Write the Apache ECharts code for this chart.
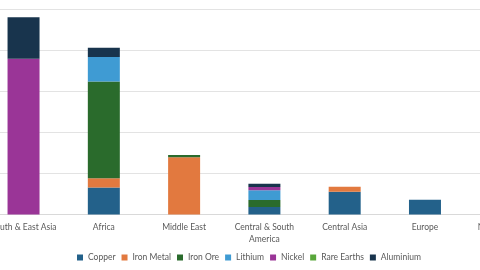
<!DOCTYPE html>
<html>
<head>
<meta charset="utf-8">
<script src="https://cdn.jsdelivr.net/npm/echarts@6/dist/echarts.min.js"></script>
<style>
html, body { margin: 0; padding: 0; background: #fff; }
#chart { width: 480px; height: 270px; }
</style>
</head>
<body>
<div id="chart"></div>
<script>
// regions (last one is cut off at the right edge)
var regions = ['South & East Asia', 'Africa', 'Middle East', 'Central & South America', 'Central Asia', 'Europe', 'North America'];

// stacked values per mineral, bottom to top
var copper     = [0,    13.1, 0,    3.7, 11.1, 7.2, null];
var ironMetal  = [0,    4.6,  27.9, 0,   2.4,  0,   null];
var ironOre    = [0,    47.1, 1.1,  3.4, 0,    0,   null];
var lithium    = [0,    12.0, 0,    4.7, 0,    0,   null];
var nickel     = [75.9, 0,    0,    1.6, 0,    0,   null];
var rareEarths = [0,    0,    0,    0,   0,    0,   null];
var aluminium  = [20.2, 4.5,  0,    1.6, 0,    0,   null];

var minerals = ['Copper', 'Iron Metal', 'Iron Ore', 'Lithium', 'Nickel', 'Rare Earths', 'Aluminium'];
var colors = ['#23618a', '#e2793f', '#2a6b2c', '#3f9bd3', '#9a3597', '#58a63a', '#18344d'];
var values = [copper, ironMetal, ironOre, lithium, nickel, rareEarths, aluminium];

var font = 'Lato, "Open Sans", sans-serif';

var series = [];
for (var i = 0; i < minerals.length; i++) {
    series.push({
        name: minerals[i],
        type: 'bar',
        stack: 'total',
        barWidth: 32,
        itemStyle: { color: colors[i] },
        data: values[i]
    });
}

var option = {
    animation: false,
    color: colors,
    legend: {
        left: 72,
        top: 248,
        itemWidth: 6,
        itemHeight: 6,
        itemGap: 6,
        icon: 'rect',
        textStyle: { fontFamily: font, fontSize: 8.5, color: '#595959' },
        data: minerals
    },
    grid: {
        left: -16.6,
        top: 9.3,
        width: 562,
        height: 205.2,
        outerBoundsMode: 'none'
    },
    xAxis: {
        type: 'category',
        data: regions,
        axisLine: { lineStyle: { color: '#d9d9d9', width: 1 } },
        axisTick: { show: false },
        axisLabel: {
            interval: 0,
            margin: 7,
            fontFamily: font,
            fontSize: 8.5,
            lineHeight: 12,
            color: '#595959',
            formatter: function (v) { return v.replace('South America', 'South\nAmerica'); }
        }
    },
    yAxis: {
        type: 'value',
        min: 0,
        max: 100,
        interval: 20,
        axisLine: { show: false },
        axisTick: { show: false },
        axisLabel: { show: false },
        splitLine: { lineStyle: { color: '#e3e3e3', width: 1 } }
    },
    series: series
};

var chart = echarts.init(document.getElementById('chart'));
chart.setOption(option);
</script>
</body>
</html>
